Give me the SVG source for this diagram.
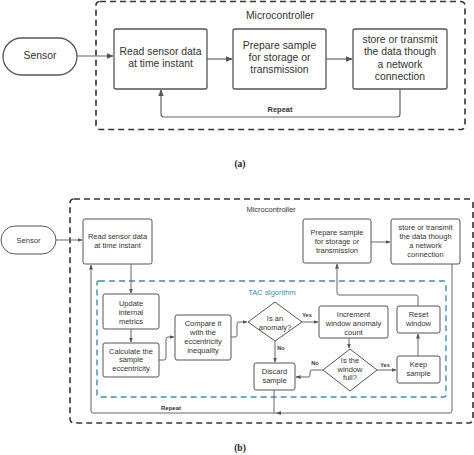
<svg xmlns="http://www.w3.org/2000/svg" width="474" height="455" viewBox="0 0 474 455">
<defs>
<marker id="ah" viewBox="0 0 10 10" refX="9" refY="5" markerWidth="7" markerHeight="7" markerUnits="userSpaceOnUse" orient="auto"><path d="M0,1 L10,5 L0,9 z" fill="#555"/></marker>
<marker id="ahs" viewBox="0 0 10 10" refX="9" refY="5" markerWidth="5" markerHeight="5" markerUnits="userSpaceOnUse" orient="auto"><path d="M0,1 L10,5 L0,9 z" fill="#555"/></marker>
<style>
.box{fill:#fff;stroke:#555;stroke-width:1.3}
.sbox{fill:#fff;stroke:#555;stroke-width:1}
.outer{fill:none;stroke:#333;stroke-width:1.6;stroke-dasharray:6 4}
.tac{fill:none;stroke:#3f8db3;stroke-width:1.4;stroke-dasharray:6 4}
.ln{fill:none;stroke:#666;stroke-width:1}
.lnA{fill:none;stroke:#666;stroke-width:1.2}
text{font-family:"Liberation Sans",Arial,sans-serif;fill:#333;text-anchor:middle}
.ta{font-size:10.4px}
.tb{font-size:7.5px}
.lb{font-size:5.5px;font-weight:bold}
.cap{font-family:"Liberation Serif","Times New Roman",serif;font-size:9.5px;font-weight:bold;fill:#222}
</style>
</defs>

<!-- (a) -->
<g id="a-micro">
<rect class="outer" x="96" y="1.5" width="369" height="128" rx="4"/>
<text class="ta" x="280" y="19">Microcontroller</text>
</g>
<g id="a-sensor">
<rect class="box" x="3" y="38" width="74" height="37" rx="18.5"/>
<text class="ta" x="40" y="59">Sensor</text>
</g>
<g id="a-read">
<rect class="box" x="114" y="29" width="93" height="60" rx="2"/>
<text class="ta" x="160.5" y="55">Read sensor data</text>
<text class="ta" x="160.5" y="67">at time instant</text>
</g>
<g id="a-prepare">
<rect class="box" x="233" y="29" width="93" height="60" rx="2"/>
<text class="ta" x="279.5" y="49">Prepare sample</text>
<text class="ta" x="279.5" y="61">for storage or</text>
<text class="ta" x="279.5" y="73">transmission</text>
</g>
<g id="a-store">
<rect class="box" x="353" y="29" width="94" height="60" rx="2"/>
<text class="ta" x="400" y="42.5">store or transmit</text>
<text class="ta" x="400" y="55">the data though</text>
<text class="ta" x="400" y="67.5">a network</text>
<text class="ta" x="400" y="80">connection</text>
</g>
<g id="a-connectors">
<line class="lnA" x1="77" y1="56" x2="113" y2="56" marker-end="url(#ah)"/>
<line class="lnA" x1="207" y1="59" x2="232" y2="59" marker-end="url(#ah)"/>
<line class="lnA" x1="326" y1="59" x2="352" y2="59" marker-end="url(#ah)"/>
<path class="lnA" d="M400,89 V114 Q400,117 397,117 H164 Q161,117 161,114 V90" marker-end="url(#ah)"/>
<text x="280" y="112" style="font-size:7.5px;font-weight:bold">Repeat</text>
</g>
<text class="cap" x="240" y="167">(a)</text>

<!-- (b) -->
<g id="b-micro">
<rect class="outer" x="70" y="199" width="403" height="224" rx="4"/>
<text class="tb" x="271" y="211.5">Microcontroller</text>
</g>
<g id="b-tac">
<rect class="tac" x="97" y="281" width="349" height="116" rx="2"/>
<text class="tb" x="272" y="294.5" style="fill:#3f8db3">TAC algorithm</text>
</g>
<g id="b-sensor">
<rect class="sbox" x="1" y="226" width="55" height="28" rx="14"/>
<text class="tb" x="28.5" y="242.5">Sensor</text>
</g>
<g id="b-read">
<rect class="sbox" x="83" y="219" width="69" height="45" rx="2"/>
<text class="tb" x="117.5" y="238.5">Read sensor data</text>
<text class="tb" x="117.5" y="247.5">at time instant</text>
</g>
<g id="b-prepare">
<rect class="sbox" x="303" y="219" width="68" height="44" rx="2"/>
<text class="tb" x="337" y="234.5">Prepare sample</text>
<text class="tb" x="337" y="243.5">for storage or</text>
<text class="tb" x="337" y="252.5">transmission</text>
</g>
<g id="b-store">
<rect class="sbox" x="391" y="219" width="69" height="45" rx="2"/>
<text class="tb" x="425.5" y="229.5">store or transmit</text>
<text class="tb" x="425.5" y="239">the data though</text>
<text class="tb" x="425.5" y="248">a network</text>
<text class="tb" x="425.5" y="257">connection</text>
</g>
<g id="b-update">
<rect class="sbox" x="103" y="294" width="56" height="35" rx="2"/>
<text class="tb" x="131" y="305.5">Update</text>
<text class="tb" x="131" y="314.5">internal</text>
<text class="tb" x="131" y="323.5">metrics</text>
</g>
<g id="b-calc">
<rect class="sbox" x="103" y="343" width="56" height="34" rx="2"/>
<text class="tb" x="131" y="353.5">Calculate the</text>
<text class="tb" x="131" y="362">sample</text>
<text class="tb" x="131" y="371">eccentricity</text>
</g>
<g id="b-compare">
<rect class="sbox" x="175" y="315" width="56" height="45" rx="2"/>
<text class="tb" x="203" y="325.5">Compare it</text>
<text class="tb" x="203" y="334.5">with the</text>
<text class="tb" x="203" y="343.5">eccentricity</text>
<text class="tb" x="203" y="352.5">inequality</text>
</g>
<g id="b-anomaly">
<polygon class="sbox" points="275,302 302,322 275,341 248,322"/>
<text class="tb" x="275" y="320.5">Is an</text>
<text class="tb" x="275" y="329.5">anomaly?</text>
</g>
<g id="b-increment">
<rect class="sbox" x="319" y="306" width="69" height="32" rx="2"/>
<text class="tb" x="353.5" y="316.5">Increment</text>
<text class="tb" x="353.5" y="325.5">window anomaly</text>
<text class="tb" x="353.5" y="334.5">count</text>
</g>
<g id="b-full">
<polygon class="sbox" points="350,349 377,370 350,391 323,370"/>
<text class="tb" x="350" y="362.5">Is the</text>
<text class="tb" x="350" y="371.5">window</text>
<text class="tb" x="350" y="380">full?</text>
</g>
<g id="b-discard">
<rect class="sbox" x="254" y="363" width="41" height="27" rx="2"/>
<text class="tb" x="274.5" y="373.5">Discard</text>
<text class="tb" x="274.5" y="382.5">sample</text>
</g>
<g id="b-keep">
<rect class="sbox" x="397" y="356" width="43" height="27" rx="2"/>
<text class="tb" x="418.5" y="366.5">Keep</text>
<text class="tb" x="418.5" y="375.5">sample</text>
</g>
<g id="b-reset">
<rect class="sbox" x="397" y="306" width="43" height="27" rx="2"/>
<text class="tb" x="418.5" y="316.5">Reset</text>
<text class="tb" x="418.5" y="325.5">window</text>
</g>
<g id="b-connectors">
<line class="ln" x1="56" y1="240" x2="82" y2="240" marker-end="url(#ahs)"/>
<line class="ln" x1="371" y1="242" x2="390" y2="242" marker-end="url(#ahs)"/>
<line class="ln" x1="131" y1="264" x2="131" y2="293" marker-end="url(#ahs)"/>
<line class="ln" x1="131" y1="329" x2="131" y2="342" marker-end="url(#ahs)"/>
<path class="ln" d="M159,360 H164 Q166,360 166,358 V339 Q166,337 168,337 H174" marker-end="url(#ahs)"/>
<path class="ln" d="M231,337 H235 Q237,337 237,335 V324 Q237,322 239,322 H247" marker-end="url(#ahs)"/>
<line class="ln" x1="302" y1="322" x2="318" y2="322" marker-end="url(#ahs)"/>
<text class="lb" x="307" y="317">Yes</text>
<line class="ln" x1="275" y1="341" x2="275" y2="362" marker-end="url(#ahs)"/>
<text class="lb" x="281" y="350">No</text>
<line class="ln" x1="349" y1="338" x2="349" y2="348" marker-end="url(#ahs)"/>
<line class="ln" x1="377" y1="370" x2="396" y2="370" marker-end="url(#ahs)"/>
<text class="lb" x="385" y="367">Yes</text>
<path class="ln" d="M323,370 H312 Q310,370 310,372 V375 Q310,377 308,377 H296" marker-end="url(#ahs)"/>
<text class="lb" x="315" y="365">No</text>
<line class="ln" x1="418" y1="356" x2="418" y2="334" marker-end="url(#ahs)"/>
<path class="ln" d="M418,306 V297 Q418,295 416,295 H339 Q337,295 337,293 V264" marker-end="url(#ahs)"/>
<line class="ln" x1="274" y1="390" x2="274" y2="413"/>
<path class="ln" d="M452,264 V411 Q452,413 450,413 H93 Q91,413 91,411 V265" marker-end="url(#ahs)"/>
<path d="M276,413 L281,411 L281,415 z" fill="#555"/>
<text x="171" y="410" style="font-size:6px;font-weight:bold">Repeat</text>
</g>
<text class="cap" x="240" y="451">(b)</text>
</svg>
